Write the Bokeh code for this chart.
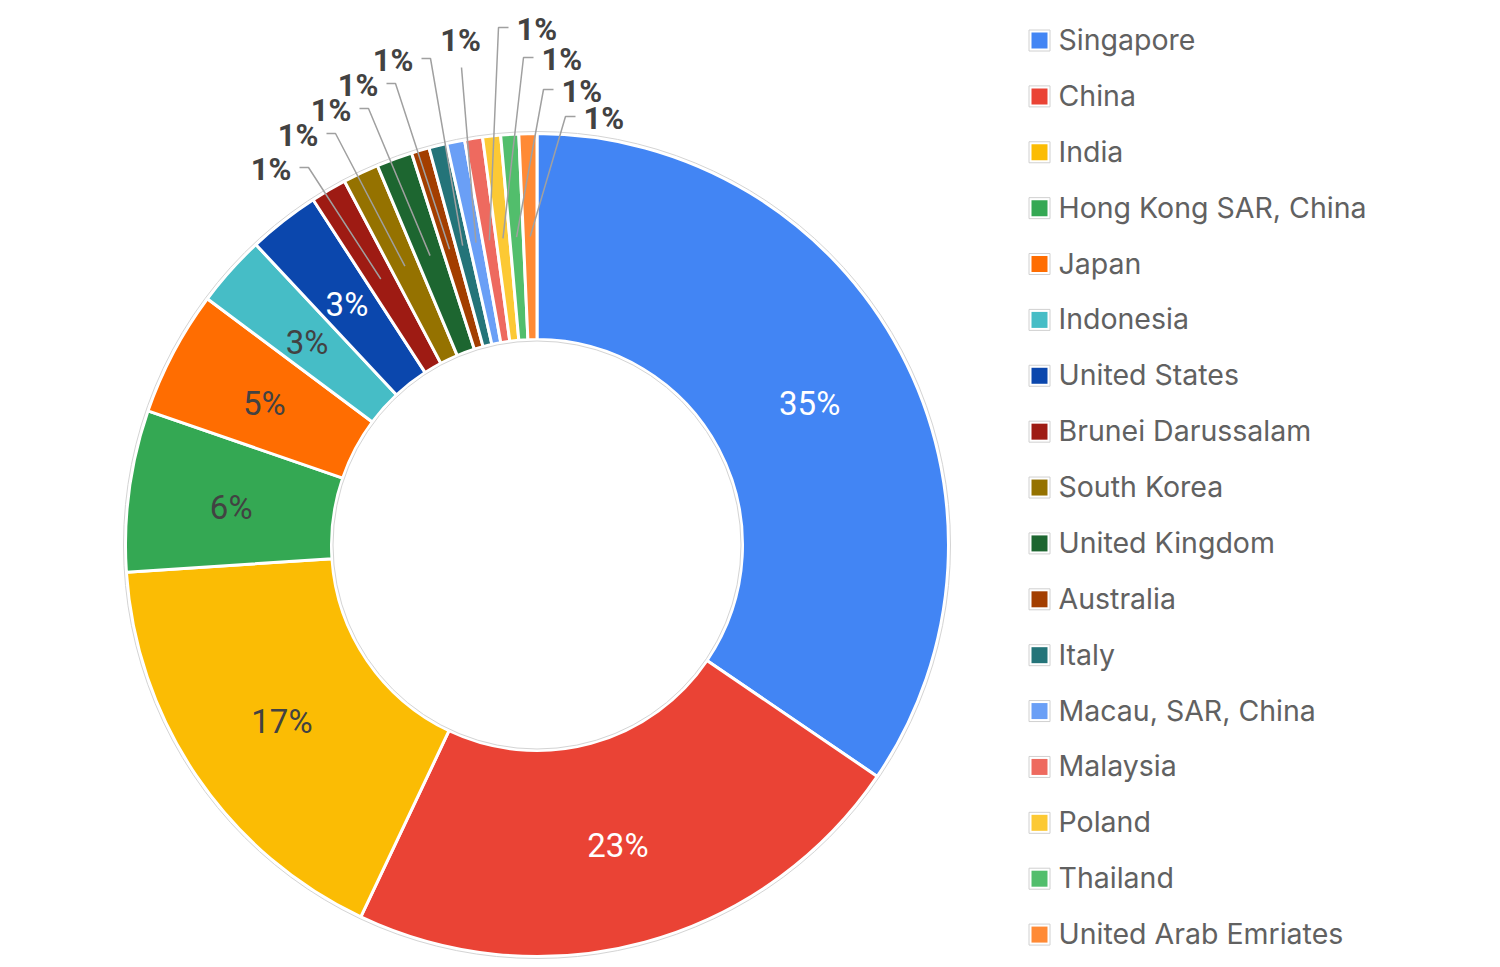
import math
from bokeh.plotting import figure
from bokeh.models import Range1d, ColumnDataSource
from bokeh.core.properties import value
from bokeh.embed import file_html
from bokeh.resources import INLINE

# ---------------- data ----------------
countries = ["Singapore", "China", "India", "Hong Kong SAR, China", "Japan",
             "Indonesia", "United States", "Brunei Darussalam", "South Korea",
             "United Kingdom", "Australia", "Italy", "Macau, SAR, China",
             "Malaysia", "Poland", "Thailand", "United Arab Emriates"]
counts = [49, 32, 24, 9, 7, 4, 4, 2, 2, 2, 1, 1, 1, 1, 1, 1, 1]

# ---------------- styles ----------------
colors = ["#4285F4", "#EA4335", "#FBBC04", "#34A853", "#FF6D01", "#46BDC6",
          "#0B47AD", "#9E1B13", "#957200", "#1D6630", "#A33E00", "#247479",
          "#6A9FF6", "#EE6A5F", "#FCC934", "#52BE6C", "#FF8A35"]
inside_text_colors = ["white", "white", "#424242", "#424242", "#424242",
                      "#424242", "white"]

# ---------------- layout (image pixel space, y down) ----------------
W, H = 1484, 962
IMG_H = 967
CX, CY_IMG = 536.5, 544.5
R_OUT, R_IN = 411.5, 205.5
R_MID = 308.5
# top points of the leader lines for the small slices (image px)
callout_tops = [(308, 167), (335, 133), (368, 108), (395, 83), (430, 58),
                (461, 67), (498, 27), (523, 57), (543, 89), (565, 116)]
callout_sides = ["L", "L", "L", "L", "L", "C", "R", "R", "R", "R"]
LEG_X, LEG_Y0, LEG_DY = 1039, 40, 55.88


def fy(img_y):
    return IMG_H - img_y


CY = fy(CY_IMG)

p = figure(width=W, height=H, output_backend="svg", toolbar_location=None,
           x_range=Range1d(0, W), y_range=Range1d(IMG_H - H, IMG_H),
           min_border=0, outline_line_color=None, background_fill_color="white",
           border_fill_color="white")
p.axis.visible = False
p.grid.visible = False

total = sum(counts)
starts, ends, mids = [], [], []
acc = 0
for c in counts:
    a0 = acc / total * 2 * math.pi
    acc += c
    a1 = acc / total * 2 * math.pi
    # clockwise from 12 o'clock -> bokeh anticlockwise from +x
    starts.append(math.pi / 2 - a1)
    ends.append(math.pi / 2 - a0)
    mids.append((a0 + a1) / 2)

src = ColumnDataSource(dict(x=[CX] * len(counts), y=[CY] * len(counts),
                            start=starts, end=ends, color=colors))
p.annular_wedge(x="x", y="y", inner_radius=R_IN, outer_radius=R_OUT,
                start_angle="start", end_angle="end", direction="anticlock",
                fill_color="color", line_color="white", line_width=3, source=src)

# faint outline circles
p.arc(x=[CX], y=[CY], radius=R_OUT + 2, start_angle=0, end_angle=2 * math.pi,
      line_color="#d4d4d4", line_width=1)
p.arc(x=[CX], y=[CY], radius=R_IN - 1.5, start_angle=0, end_angle=2 * math.pi,
      line_color="#d4d4d4", line_width=1)

pct = ["%d%%" % round(100 * c / total) for c in counts]

# inside labels
n_in = len(inside_text_colors)
ix = [CX + R_MID * math.sin(m) for m in mids[:n_in]]
iy = [CY - 3 + R_MID * math.cos(m) for m in mids[:n_in]]
p.text(x=ix, y=iy, text=pct[:n_in], text_color=inside_text_colors,
       text_font=value("Roboto"), text_font_size="33px",
       text_align="center", text_baseline="middle")

# callout labels
xs, ys = [], []
tx, ty, ttext, talign = [], [], [], []
for k, (m, (tx0, ty0), side) in enumerate(zip(mids[n_in:], callout_tops, callout_sides)):
    bx = CX + R_MID * math.sin(m)
    by = CY + R_MID * math.cos(m)
    if side == "L":
        xs.append([bx, tx0, tx0 - 9]); ys.append([by, fy(ty0), fy(ty0)])
        tx.append(tx0 - 17); ty.append(fy(ty0 + 2)); talign.append("right")
    elif side == "R":
        xs.append([bx, tx0, tx0 + 10]); ys.append([by, fy(ty0), fy(ty0)])
        tx.append(tx0 + 18); ty.append(fy(ty0 + 2)); talign.append("left")
    else:
        xs.append([bx, tx0]); ys.append([by, fy(ty0)])
        tx.append(tx0 - 1); ty.append(fy(ty0 - 27)); talign.append("center")
    ttext.append(pct[n_in + k])
p.multi_line(xs=xs, ys=ys, line_color="#a0a0a0", line_width=1.5)
p.text(x=tx, y=ty, text=ttext, text_align=talign, text_color="#424242",
       text_font=value("Roboto"), text_font_style="bold", text_font_size="31px",
       text_baseline="middle")

# legend
n = len(countries)
ly = [fy(LEG_Y0 + i * LEG_DY) for i in range(n)]
p.rect(x=[LEG_X] * n, y=ly, width=21, height=21, fill_color="white",
       line_color="#d0d0d0", line_width=1)
p.rect(x=[LEG_X] * n, y=ly, width=16, height=16, fill_color=colors, line_color=None)
p.text(x=[1058] * n, y=[fy(LEG_Y0 - 1 + i * LEG_DY) for i in range(n)], text=countries,
       text_color="#616161", text_font=value("Inter"), text_font_size="28.5px",
       text_align="left", text_baseline="middle")

open("out.html", "w").write(file_html(p, INLINE))
